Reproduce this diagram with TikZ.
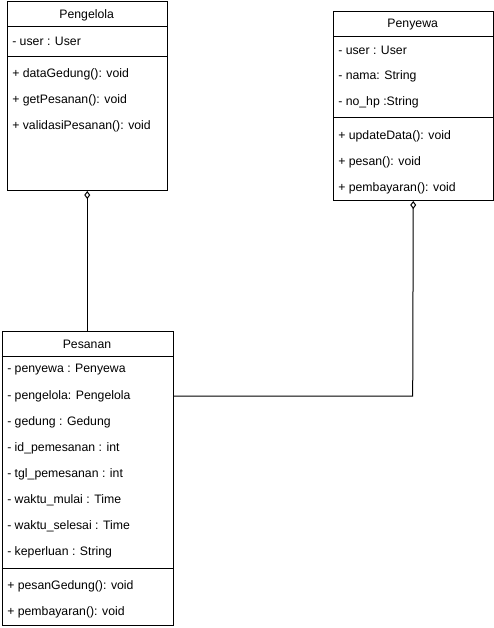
\documentclass[tikz,border=0pt]{standalone}
\usepackage{fontspec}
\setmainfont{Liberation Sans}
\usetikzlibrary{arrows.meta}
\begin{document}
\begin{tikzpicture}[x=0.75pt,y=-0.75pt,
  cls/.style={draw,line width=0.75pt,fill=white,inner sep=0pt,anchor=north west},
  title/.style={anchor=center,font=\fontsize{9.2pt}{10pt}\selectfont,inner sep=0pt,yshift=-0.75pt},
  item/.style={anchor=west,font=\fontsize{9.2pt}{10pt}\selectfont,inner sep=0pt,yshift=-0.75pt},
  sep/.style={line width=0.75pt},
  agg/.style={line width=0.75pt,{Diamond[open,length=6pt,width=4.5pt,line width=0.75pt]}-}]
\useasboundingbox (0,0) rectangle (493,628);
% Pengelola
\node[cls,minimum width=159.5*0.75pt,minimum height=189*0.75pt] (peng) at (7,1) {};
\node[title] (pengT) at (86.7,14) {Pengelola};
\draw[sep] (7,26) -- (166.5,26);
\draw[sep] (7,56) -- (166.5,56);
\node[item] (peng1) at (12,40) {- user : User};
\node[item] (peng2) at (12,73) {+ dataGedung(): void};
\node[item] (peng3) at (12,99) {+ getPesanan(): void};
\node[item] (peng4) at (12,125) {+ validasiPesanan(): void};
% Penyewa
\node[cls,minimum width=159.5*0.75pt,minimum height=189*0.75pt] (peny) at (333,11) {};
\node[title] (penyT) at (412.7,23.5) {Penyewa};
\draw[sep] (333,36) -- (492.5,36);
\draw[sep] (333,117.5) -- (492.5,117.5);
\node[item] (peny1) at (338,49) {- user : User};
\node[item] (peny2) at (338,75) {- nama: String};
\node[item] (peny3) at (338,101) {- no\_hp :String};
\node[item] (peny4) at (338,135) {+ updateData(): void};
\node[item] (peny5) at (338,161) {+ pesan(): void};
\node[item] (peny6) at (338,187) {+ pembayaran(): void};
% Pesanan
\node[cls,minimum width=171*0.75pt,minimum height=294*0.75pt] (pes) at (1.5,331) {};
\node[title] (pesT) at (87,343.5) {Pesanan};
\draw[sep] (1.5,356) -- (172.5,356);
\draw[sep] (1.5,568) -- (172.5,568);
\node[item] (pes1) at (7,369) {- penyewa : Penyewa};
\node[item] (pes2) at (7,395) {- pengelola: Pengelola};
\node[item] (pes3) at (7,421) {- gedung : Gedung};
\node[item] (pes4) at (7,447) {- id\_pemesanan : int};
\node[item] (pes5) at (7,473) {- tgl\_pemesanan : int};
\node[item] (pes6) at (7,499) {- waktu\_mulai : Time};
\node[item] (pes7) at (7,525) {- waktu\_selesai : Time};
\node[item] (pes8) at (7,551) {- keperluan : String};
\node[item] (pes9) at (7,585) {+ pesanGedung(): void};
\node[item] (pes10) at (7,611) {+ pembayaran(): void};
% connectors
\coordinate (j) at (412.7,396);
\draw[agg] (peng.south) -- (peng.south |- pes.north);
\draw[agg] (peny.south) -- (j) -- (pes.east |- j);
\end{tikzpicture}
\end{document}
